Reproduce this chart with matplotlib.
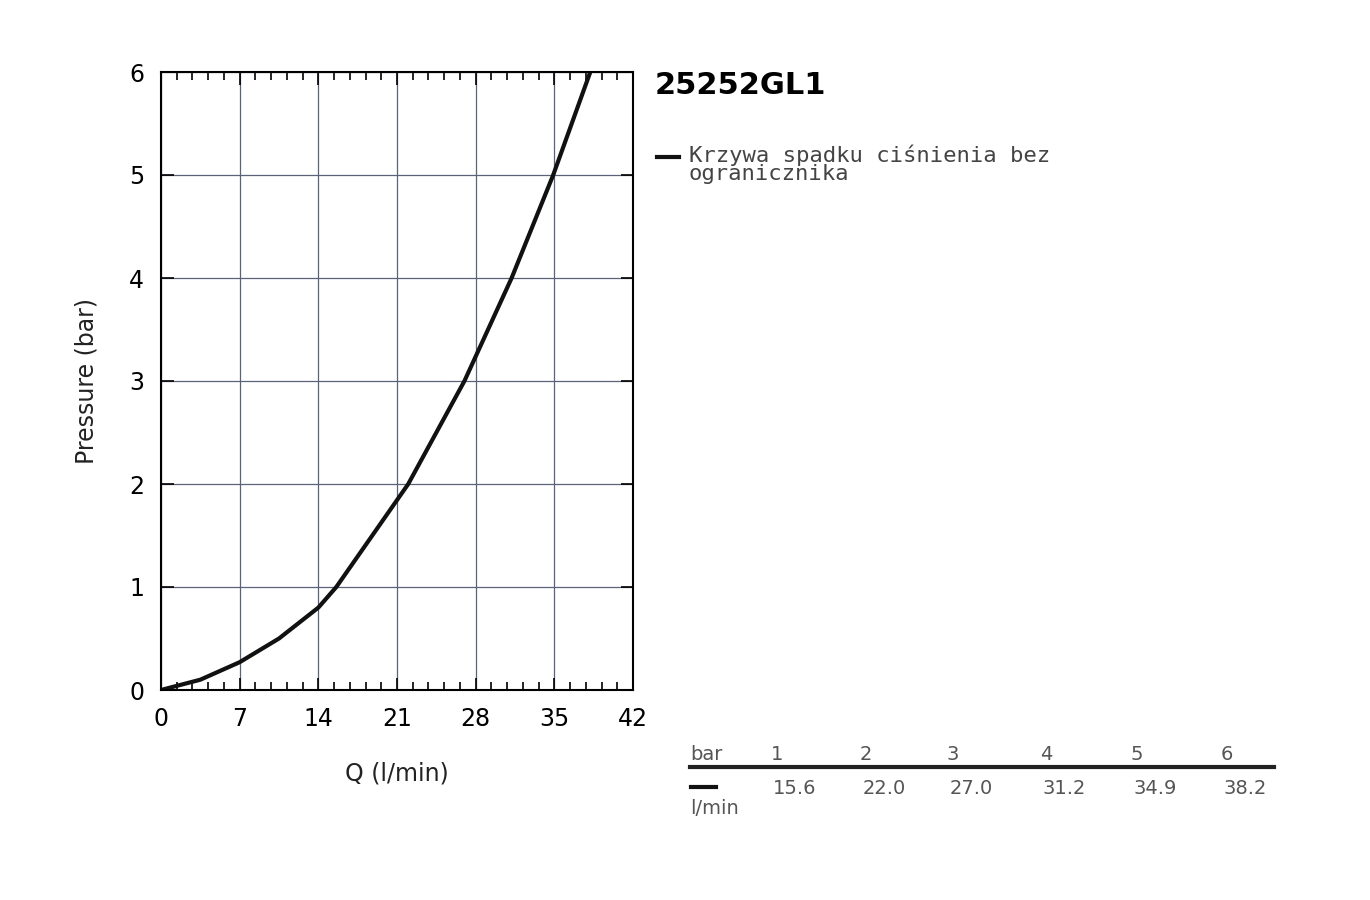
import numpy as np
import matplotlib
matplotlib.use('Agg')
import matplotlib.pyplot as plt
from matplotlib.ticker import MultipleLocator

# table values
bar_vals = [1, 2, 3, 4, 5, 6]
lmin_vals = [15.6, 22.0, 27.0, 31.2, 34.9, 38.2]
q = [0, 3.5, 7, 10.5, 14] + lmin_vals
p = [0, 0.1, 0.27, 0.5, 0.8] + bar_vals

fig = plt.figure(figsize=(13.7, 9), dpi=100)
ax = fig.add_axes([161/1370, 1-690/900, 472/1370, 618/900])
ax.plot(q, p, color='#111111', lw=3, solid_capstyle='round')
ax.set_xlim(0, 42); ax.set_ylim(0, 6)
ax.xaxis.set_major_locator(MultipleLocator(7))
ax.xaxis.set_minor_locator(MultipleLocator(1.4))
ax.yaxis.set_major_locator(MultipleLocator(1))
ax.grid(True, which='major', color='#5a6378', lw=0.9)
ax.tick_params(which='both', direction='in', top=True, right=True, labelsize=17, pad=12)
ax.tick_params(which='major', length=9, width=1.2)
ax.tick_params(which='minor', length=6, width=1.2)
for s in ax.spines.values():
    s.set_linewidth(1.5)
ax.set_xlabel('Q (l/min)', fontsize=17, labelpad=22, color='#222222')
ax.set_ylabel('Pressure (bar)', fontsize=17, labelpad=22, color='#222222')

fig.text(655/1370, 1-85/900, '25252GL1', fontsize=22, weight='bold', va='center')
fig.lines.append(plt.Line2D([657/1370, 679/1370], [1-157/900]*2, color='#111111', lw=3, transform=fig.transFigure))
fig.text(689/1370, 1-157/900, 'Krzywa spadku ciśnienia bez\nogranicznika', family='DejaVu Sans Mono',
         fontsize=16, color='#444444', va='top', linespacing=0.85, transform=fig.transFigure).set_y(1-145/900)

# table
xs = [777, 866, 953, 1046, 1137, 1227]
fig.text(690/1370, 1-754/900, 'bar', fontsize=14, color='#555555', va='center')
fig.lines.append(plt.Line2D([690/1370, 1274/1370], [1-767/900]*2, color='#222222', lw=3, transform=fig.transFigure))
fig.lines.append(plt.Line2D([691/1370, 716/1370], [1-787/900]*2, color='#111111', lw=3, transform=fig.transFigure))
fig.text(690/1370, 1-808/900, 'l/min', fontsize=14, color='#555555', va='center')
for x, b, l in zip(xs, bar_vals, lmin_vals):
    fig.text(x/1370, 1-754/900, str(b), fontsize=14, color='#555555', va='center', ha='center')
    fig.text((x+18)/1370, 1-788/900, f'{l:.1f}', fontsize=14, color='#555555', va='center', ha='center')

fig.savefig('out.png', dpi=100, facecolor='white')
